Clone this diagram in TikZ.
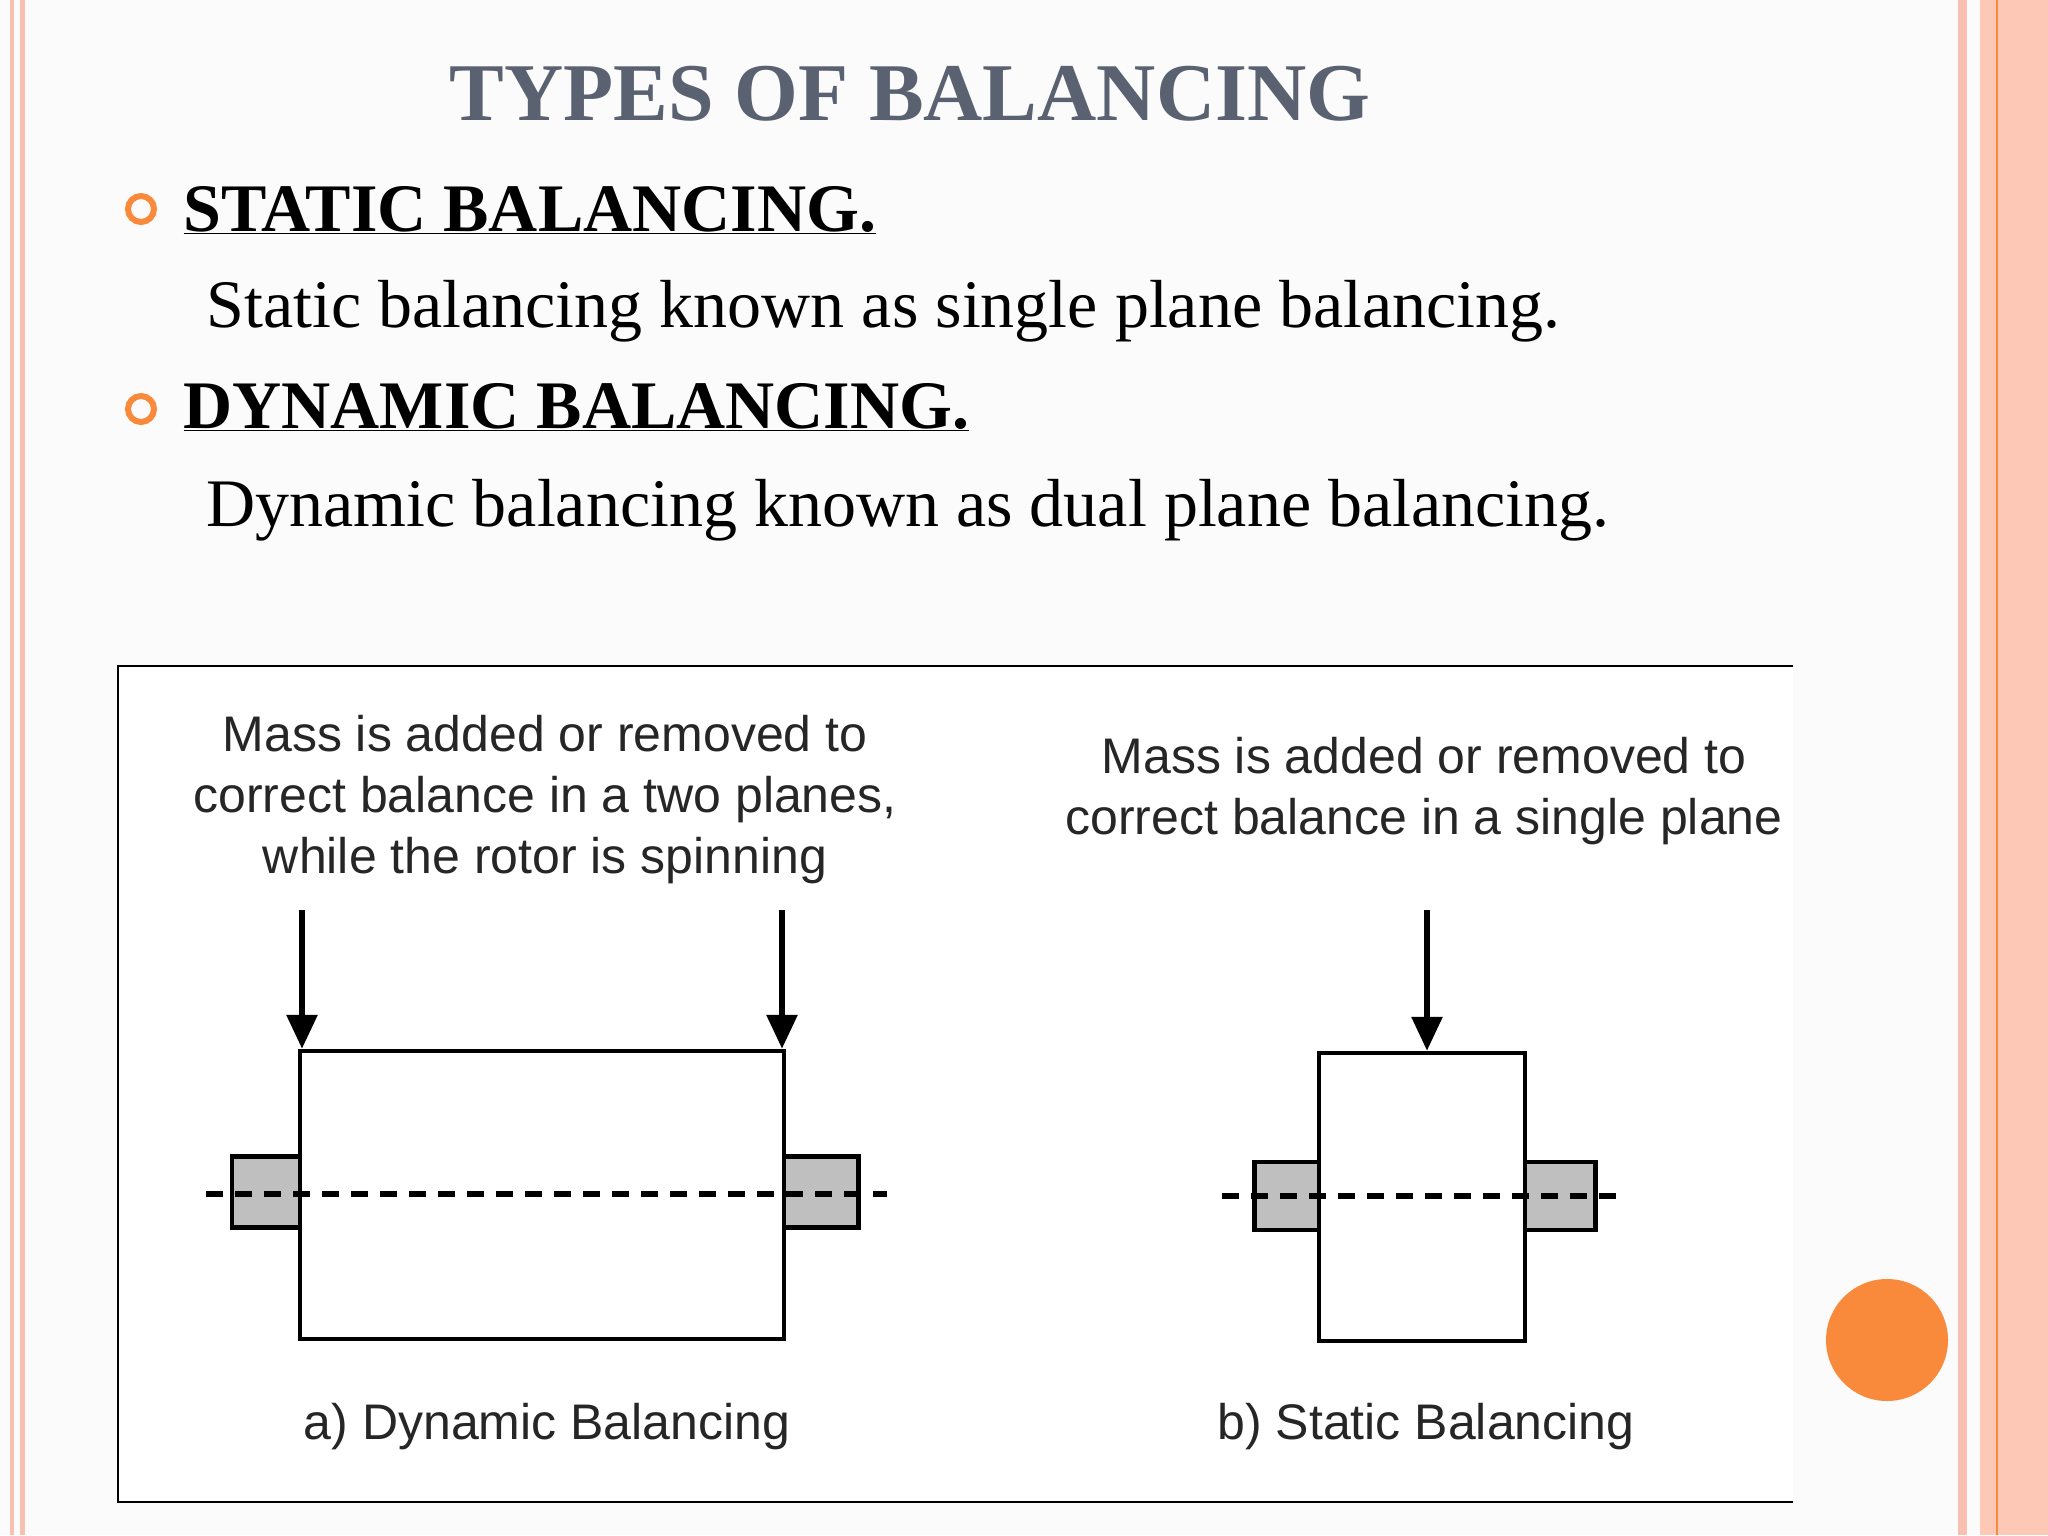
\documentclass[tikz,border=0pt]{standalone}
\usepackage{fontspec}
\setmainfont{Liberation Serif}
\setsansfont{Liberation Sans}
\usetikzlibrary{arrows.meta}
\definecolor{pk}{HTML}{F8C0B0}
\definecolor{peach}{HTML}{FDC9B6}
\definecolor{org}{HTML}{F98A3C}
\definecolor{ttl}{HTML}{5A6170}
\begin{document}
\begin{tikzpicture}[x=1pt,y=-1pt,
  lbl/.style={font=\sffamily\fontsize{50}{61}\selectfont,align=center,text=black!85},
  rot/.style={draw,line width=4.5pt},
  stub/.style={draw,line width=4.5pt,fill=black!25},
  axis/.style={line width=6.5pt,dash pattern=on 17pt off 12pt},
  arr/.style={line width=6pt,-{Triangle[length=34pt,width=30pt]}}]
\useasboundingbox (0,0) rectangle (2048,1535);
\fill[white!97!gray] (0,0) rectangle (2048,1535);
\fill[pk] (10,0) rectangle (14,1535);
\fill[pk] (20,0) rectangle (25,1535);
\fill[pk] (1958,0) rectangle (1967,1535);
\fill[peach] (1980,0) rectangle (2048,1535);
\draw[org,line width=1.5pt] (1997,0) -- (1997,1535);
\node[text=ttl,font=\bfseries\fontsize{82}{90}\selectfont] (title) at (910,94) {TYPES OF BALANCING};
\node[circle,draw=org,line width=6pt,minimum size=26pt,inner sep=0pt] (b1) at (141,209) {};
\node[circle,draw=org,line width=6pt,minimum size=26pt,inner sep=0pt] (b2) at (141,409) {};
\node[anchor=base west,font=\bfseries\fontsize{68}{80}\selectfont] (h1) at (180,231) {\underline{STATIC BALANCING.}};
\node[anchor=base west,font=\fontsize{68}{80}\selectfont] (t1) at (203,327) {Static balancing known as single plane balancing.};
\node[anchor=base west,font=\bfseries\fontsize{68}{80}\selectfont] (h2) at (180,428) {\underline{DYNAMIC BALANCING.}};
\node[anchor=base west,font=\fontsize{68}{80}\selectfont] (t2) at (203,526) {Dynamic balancing known as dual plane balancing.};
\draw[line width=2.5pt] (1793,666) -- (118,666) -- (118,1502) -- (1793,1502);
\fill[white] (119,667) rectangle (1793,1501);
\node[lbl] (la) at (545,800) {Mass is added or removed to\\correct balance in a two planes,\\while the rotor is spinning};
\node[lbl] (lb) at (1424,791) {Mass is added or removed to\\correct balance in a single plane};
% dynamic
\node[stub,minimum width=68pt,minimum height=71pt,inner sep=0pt] (s1) at (266,1192) {};
\node[stub,minimum width=75pt,minimum height=71pt,inner sep=0pt] (s2) at (821,1192) {};
\node[rot,fill=white,minimum width=484pt,minimum height=288pt,inner sep=0pt] (r1) at (542,1195) {};
\coordinate (ta1) at (302,910); \coordinate (ta2) at (782,910);
\draw[arr] (ta1) -- (r1.north west -| ta1);
\draw[arr] (ta2) -- (r1.north east -| ta2);
\coordinate (d1) at (206,1194); \coordinate (d2) at (887,1194);
\draw[axis] (d1) -- (d2);
% static
\node[stub,minimum width=65pt,minimum height=68pt,inner sep=0pt] (s3) at (1287,1196) {};
\node[stub,minimum width=71pt,minimum height=68pt,inner sep=0pt] (s4) at (1560,1196) {};
\node[rot,fill=white,minimum width=206pt,minimum height=288pt,inner sep=0pt] (r2) at (1422,1197) {};
\coordinate (ta3) at (1427,910);
\draw[arr] (ta3) -- (r2.north -| ta3);
\coordinate (d3) at (1222,1196); \coordinate (d4) at (1627,1196);
\draw[axis] (d3) -- (d4);
\node[lbl] (ca) at (547,1427) {a) Dynamic Balancing};
\node[lbl] (cb) at (1426,1427) {b) Static Balancing};
\node[circle,fill=org,minimum size=122pt,inner sep=0pt] (dot) at (1887,1340) {};
\end{tikzpicture}
\end{document}
